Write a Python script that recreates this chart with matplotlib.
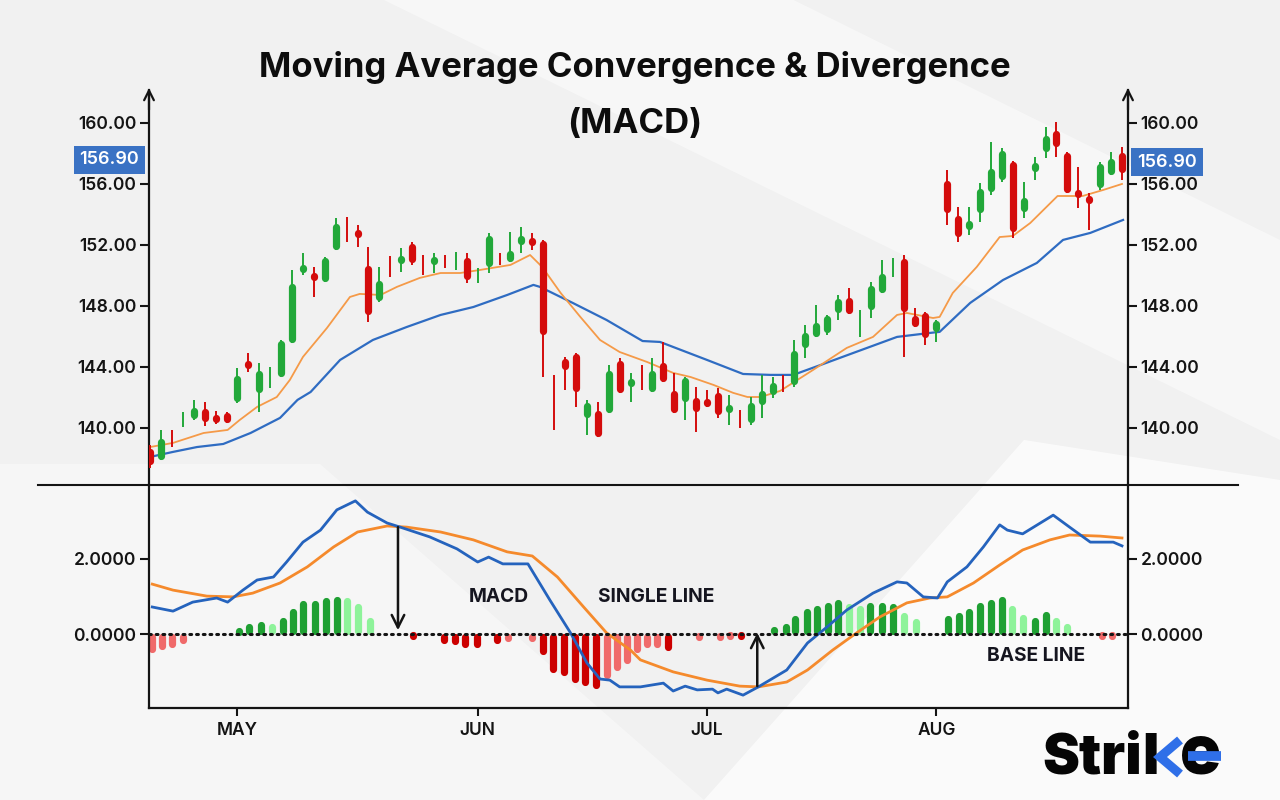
import numpy as np
import matplotlib
matplotlib.use("Agg")
import matplotlib.pyplot as plt
from matplotlib.lines import Line2D
from matplotlib.patches import Polygon

plt.rcParams['font.family'] = ['Inter', 'DejaVu Sans']

# ---- price panel data (candles, trading-day index 0..89)
opens = [138.69, 137.90, 139.35, 140.20, 140.59, 141.31, 140.85, 141.05, 141.71, 144.33,
         142.30, 143.21, 143.34, 145.57, 150.30, 150.16, 149.57, 151.67, 153.12, 152.98,
         150.69, 148.33, 150.56, 151.02, 152.13, 151.02, 150.82, 151.21, 150.49, 151.21,
         150.23, 150.56, 151.48, 150.89, 152.00, 152.33, 152.33, 143.15, 144.59, 144.92,
         140.66, 141.18, 140.98, 144.46, 142.69, 143.08, 142.36, 144.33, 142.49, 141.71,
         142.03, 141.97, 142.36, 141.05, 140.59, 140.33, 141.51, 142.16, 143.21, 142.82,
         145.25, 145.97, 146.23, 147.54, 148.59, 147.28, 147.74, 148.85, 150.56, 151.15,
         147.41, 147.61, 146.30, 156.26, 153.97, 152.98, 154.10, 155.48, 156.26, 157.51,
         154.16, 156.79, 158.10, 159.54, 158.10, 155.54, 155.21, 155.74, 156.59, 158.10]
closes = [137.57, 139.35, 138.89, 140.66, 141.38, 140.39, 140.39, 140.33, 143.48, 144.00,
          143.80, 143.34, 145.77, 149.51, 150.62, 149.71, 151.21, 153.44, 152.66, 152.52,
          147.41, 149.71, 150.16, 151.08, 150.82, 150.56, 151.15, 150.69, 150.89, 149.71,
          150.49, 152.66, 151.08, 151.67, 152.66, 152.13, 146.10, 142.62, 143.80, 142.36,
          141.71, 139.41, 143.80, 142.30, 143.28, 142.95, 143.80, 143.02, 140.98, 143.34,
          141.05, 141.38, 140.85, 141.51, 140.07, 141.71, 142.49, 143.02, 143.08, 145.11,
          146.30, 146.95, 147.41, 148.53, 147.48, 147.54, 149.38, 150.16, 150.69, 147.61,
          146.62, 145.90, 147.08, 154.10, 152.52, 153.64, 155.74, 157.05, 158.23, 152.85,
          155.15, 157.44, 159.21, 158.43, 155.41, 155.21, 154.75, 157.38, 157.70, 156.72]
highs = [138.89, 139.87, 139.87, 141.05, 141.84, 141.71, 141.12, 141.05, 143.94, 144.92,
         144.26, 144.00, 145.77, 150.36, 151.48, 150.56, 151.21, 153.77, 153.84, 153.31,
         151.87, 150.56, 151.28, 151.80, 152.20, 151.34, 151.48, 151.34, 151.54, 151.48,
         150.49, 152.79, 151.48, 152.85, 153.18, 152.79, 152.33, 143.48, 144.66, 144.92,
         141.84, 141.71, 144.13, 144.59, 143.61, 144.13, 144.59, 145.64, 143.61, 143.34,
         142.69, 142.49, 142.62, 142.16, 141.18, 142.03, 143.48, 143.34, 143.48, 145.77,
         146.75, 148.07, 147.41, 148.72, 149.18, 147.74, 149.57, 151.02, 151.15, 151.34,
         147.87, 147.61, 147.08, 156.92, 154.49, 154.49, 156.07, 158.75, 158.36, 157.51,
         156.13, 157.77, 159.74, 160.07, 158.10, 157.11, 155.41, 157.44, 158.10, 158.43]
lows = [137.38, 137.90, 138.75, 140.07, 140.52, 140.13, 140.26, 140.33, 141.64, 143.67,
        141.05, 142.62, 143.34, 145.57, 150.03, 148.59, 149.57, 151.67, 152.20, 151.87,
        146.95, 148.26, 149.90, 150.23, 150.69, 150.03, 150.16, 150.49, 150.36, 149.51,
        149.51, 150.16, 150.69, 150.89, 151.48, 151.67, 143.35, 139.87, 142.49, 141.38,
        139.54, 139.41, 140.98, 142.30, 141.71, 142.49, 142.36, 143.02, 140.98, 140.52,
        139.74, 141.38, 140.66, 140.20, 140.00, 140.20, 140.66, 141.97, 142.36, 142.69,
        144.59, 145.97, 146.10, 147.08, 147.48, 145.97, 147.21, 148.85, 149.90, 144.66,
        146.62, 145.44, 145.64, 153.31, 152.20, 152.66, 153.51, 155.28, 156.13, 152.46,
        153.77, 156.26, 157.70, 157.77, 155.41, 154.43, 152.98, 155.61, 156.59, 156.26]

# moving averages (read at sample points)
fast_ma_x = [0, 2.1, 4.9, 7.1, 8.2, 9.8, 11.6, 12.8, 14.0, 16.2, 18.3, 19.2, 21.1, 22.6,
             24.7, 26.6, 28.4, 30.2, 33.0, 34.8, 35.9, 37.6, 39.4, 41.2, 43.0, 45.5, 47.9,
             49.5, 51.6, 53.4, 54.7, 55.9, 57.7, 60.7, 63.8, 66.2, 68.4, 69.3, 71.7, 72.3,
             73.5, 75.7, 77.8, 79.0, 80.6, 83.1, 85.4, 87.3, 89.0]
fast_ma_y = [138.75, 139.02, 139.67, 139.87, 140.52, 141.38, 142.03, 143.15, 144.66, 146.56,
             148.59, 148.79, 148.72, 149.25, 149.84, 150.16, 150.16, 150.36, 150.69, 151.34,
             150.56, 148.85, 147.28, 145.77, 144.98, 144.33, 143.61, 143.34, 142.82, 142.30,
             142.03, 142.03, 142.43, 143.80, 145.25, 145.97, 147.41, 147.54, 147.21, 147.28,
             148.85, 150.56, 152.52, 152.59, 153.44, 155.21, 155.21, 155.61, 156.00]
slow_ma_x = [0, 2.1, 4.3, 6.7, 9.2, 11.9, 13.5, 14.7, 17.4, 20.4, 23.5, 26.6, 29.6, 32.7,
             35.1, 35.7, 38.7, 41.8, 45.1, 46.7, 51.0, 54.3, 56.8, 58.9, 61.4, 64.4, 68.4,
             71.4, 72.3, 75.1, 78.1, 81.2, 83.6, 86.1, 89.1]
slow_ma_y = [138.10, 138.43, 138.75, 138.95, 139.67, 140.66, 141.84, 142.36, 144.46, 145.77,
             146.62, 147.41, 147.93, 148.72, 149.38, 149.25, 148.20, 147.08, 145.70, 145.64,
             144.46, 143.54, 143.48, 143.48, 144.13, 144.92, 145.97, 146.23, 146.30, 148.20,
             149.70, 150.82, 152.33, 152.79, 153.64]

# ---- MACD panel data
macd_x = [0.2, 2.1, 3.9, 6.1, 7.1, 8.5, 9.8, 11.3, 12.5, 14.0, 15.6, 17.1, 18.8, 19.9,
          21.7, 22.9, 25.6, 28.1, 30.0, 31.0, 32.3, 34.6, 36.6, 38.5, 40.0, 41.2, 42.1,
          43.0, 44.9, 47.0, 47.9, 49.0, 50.1, 51.5, 52.0, 52.8, 54.3, 55.7, 58.3, 60.2,
          62.0, 63.8, 66.2, 68.4, 69.3, 70.8, 72.1, 73.0, 74.8, 76.3, 77.8, 78.5, 79.9,
          82.7, 84.2, 86.1, 88.2, 89.0]
macd_y = [0.72, 0.61, 0.85, 0.96, 0.85, 1.17, 1.44, 1.52, 1.92, 2.45, 2.77, 3.31, 3.55, 3.25,
          2.96, 2.85, 2.59, 2.27, 1.92, 2.05, 1.87, 1.87, 0.91, 0.03, -0.77, -1.20, -1.23,
          -1.41, -1.41, -1.31, -1.52, -1.39, -1.49, -1.47, -1.57, -1.47, -1.63, -1.41, -0.96,
          -0.24, 0.19, 0.64, 1.09, 1.39, 1.36, 0.99, 0.96, 1.39, 1.79, 2.32, 2.91, 2.77,
          2.67, 3.17, 2.85, 2.45, 2.45, 2.35]
signal_x = [0.2, 2.1, 5.2, 7.6, 9.4, 11.9, 14.4, 16.8, 19.0, 21.7, 23.5, 26.6, 29.6, 32.7,
            35.0, 37.3, 39.7, 41.8, 44.0, 44.9, 47.9, 51.0, 54.0, 55.7, 58.3, 60.2, 62.5,
            64.7, 66.8, 69.3, 71.4, 73.0, 75.4, 77.8, 79.9, 82.4, 84.2, 87.0, 89.0]
signal_y = [1.33, 1.17, 1.01, 0.99, 1.09, 1.36, 1.79, 2.32, 2.72, 2.88, 2.85, 2.72, 2.51, 2.19,
            2.08, 1.52, 0.72, 0.03, -0.43, -0.69, -1.01, -1.23, -1.39, -1.41, -1.28, -0.96,
            -0.43, 0.03, 0.45, 0.83, 0.96, 0.99, 1.36, 1.84, 2.24, 2.51, 2.64, 2.61, 2.56]

hist_x = [0.2, 1.1, 2.0, 3.0,
          8.1, 9.1, 10.2, 11.2, 12.2, 13.1, 14.0, 15.1, 16.1, 17.1, 18.0, 19.0, 20.1,
          24.1, 25.0, 25.9, 26.9, 27.9, 28.8, 29.9, 30.9, 31.8, 32.8, 33.9, 35.0, 36.0,
          36.9, 37.9, 38.9, 39.8, 40.8, 41.8, 42.8, 43.7, 44.6, 45.5, 46.4, 47.4, 48.4,
          49.3, 50.3, 51.2, 52.2, 53.1, 54.1,
          57.1, 58.2, 59.1, 60.2, 61.1, 62.1, 63.0, 64.0, 65.0, 65.9, 67.0, 68.0, 69.0, 70.1,
          73.1, 74.1, 75.0, 76.0, 77.0, 78.0, 78.9, 79.9, 81.0, 82.0, 83.0, 84.0,
          86.3, 87.2, 88.1, 89.1]
hist_v = [-0.50, -0.40, -0.35, -0.24,
          0.13, 0.29, 0.32, 0.28, 0.43, 0.67, 0.88, 0.88, 0.96, 1.00, 0.96, 0.80, 0.43,
          -0.08, -0.10, -0.16, -0.24, -0.27, -0.35, -0.35, -0.16, -0.24, -0.19, -0.16, -0.19,
          -0.53, -1.01, -1.09, -1.28, -1.36, -1.44, -1.17, -0.96, -0.77, -0.50, -0.35, -0.35,
          -0.43, -0.16, -0.11, -0.13, -0.16, -0.13, -0.08, -0.08,
          0.19, 0.29, 0.48, 0.67, 0.77, 0.85, 0.91, 0.80, 0.77, 0.83, 0.83, 0.80, 0.56, 0.40,
          0.48, 0.56, 0.67, 0.83, 0.91, 0.99, 0.75, 0.51, 0.45, 0.59, 0.45, 0.29,
          -0.10, -0.08, -0.08, -0.10]
hist_kind = (['lr'] * 4
             + ['dg', 'dg', 'dg', 'lg', 'dg', 'dg', 'dg', 'dg', 'dg', 'dg', 'lg', 'lg', 'lg']
             + ['dr'] * 7 + ['lr', 'dr', 'lr', 'lr', 'lr'] + ['dr'] * 6 + ['lr'] * 6
             + ['dr', 'lr', 'dr', 'lr', 'lr', 'lr', 'lr', 'dr']
             + ['dg'] * 7 + ['lg', 'lg', 'dg', 'dg', 'dg', 'lg', 'lg']
             + ['dg'] * 6 + ['lg', 'lg', 'dg', 'dg', 'lg', 'lg']
             + ['dr', 'lr', 'lr', 'dr'])

month_pos = [8, 30, 51, 72]
month_labels = ['MAY', 'JUN', 'JUL', 'AUG']
price_ticks = [140, 144, 148, 152, 156, 160]
macd_ticks = [0, 2]
last_price = 156.90

GREEN = '#22a83a'
RED = '#d40c0c'
ORANGE = '#f59a48'
BLUE = '#2f6cc2'
INK = '#141414'
LOGO_BLUE = '#2f6fe8'
hist_colors = {'dg': '#1fa033', 'lg': '#8ef39a', 'dr': '#cc0000', 'lr': '#f06a6a'}

W, H = 1280, 800
fig = plt.figure(figsize=(12.8, 8), dpi=100)
fig.patch.set_facecolor('#f1f1f1')

# soft diagonal light bands in the background
for pts, a in [([(0.30, 1), (0.62, 1), (1, 0.70), (1, 0.45)], 0.45),
               ([(0, 0.42), (0, 0), (0.55, 0), (0.25, 0.42)], 0.4),
               ([(0.55, 0), (1, 0), (1, 0.40), (0.80, 0.45)], 0.7)]:
    fig.add_artist(Polygon(pts, closed=True, transform=fig.transFigure,
                           fc='white', ec='none', alpha=a, zorder=-10))

xl = (-0.1, 89.55)
ax1 = fig.add_axes([149 / W, 315 / H, 979 / W, 395 / H])
ax2 = fig.add_axes([149 / W, 92 / H, 979 / W, 223 / H])
for ax in (ax1, ax2):
    ax.set_facecolor('none')
    ax.set_xlim(*xl)
    for s in ax.spines.values():
        s.set_linewidth(1.6)
        s.set_color(INK)

# ---- candles
o = np.array(opens); c = np.array(closes); hi = np.array(highs); lo = np.array(lows)
idx = np.arange(len(o))
cols = np.where(c >= o, GREEN, RED)
ax1.vlines(idx, lo, hi, colors=cols, lw=1.4, zorder=3)
r = 0.24  # round cap radius in price units
top = np.maximum(o, c); bot = np.minimum(o, c)
b0 = np.where(top - bot > 2 * r, bot + r, (top + bot) / 2 - 0.005)
b1 = np.where(top - bot > 2 * r, top - r, (top + bot) / 2 + 0.005)
bodies = ax1.vlines(idx, b0, b1, colors=cols, lw=5.2, zorder=4)
bodies.set_capstyle('round')

ax1.plot(slow_ma_x, slow_ma_y, color=BLUE, lw=1.6, zorder=2)
ax1.plot(fast_ma_x, fast_ma_y, color=ORANGE, lw=1.3, zorder=2)

ax1.set_ylim(136.26, 162.16)
ax1.spines['top'].set_visible(False)
ax1.spines['bottom'].set_visible(False)
ax1.set_xticks([])
ax1.set_yticks(price_ticks)
ax1.set_yticklabels(['{:.2f}'.format(v) for v in price_ticks])
ax1.tick_params(axis='y', direction='out', length=6.5, width=1.5, color=INK,
                labelsize=12.5, labelcolor=INK, right=True, labelright=True, pad=2.5)
for t in ax1.get_yticklabels():
    t.set_fontweight('semibold')
for xa in (0, 1):
    ax1.annotate('', xy=(xa, 1.005), xytext=(xa, 0.95), xycoords='axes fraction',
                 arrowprops=dict(arrowstyle='->,head_length=0.7,head_width=0.35',
                                 lw=1.6, color=INK, shrinkA=0, shrinkB=0))

# last price badges
for xa, dx, dy in [(0, -28.5, 7.5), (1, 28.0, 5.8)]:
    ax1.annotate('{:.2f}'.format(last_price), xy=(xa, last_price),
                 xycoords=('axes fraction', 'data'), xytext=(dx, dy),
                 textcoords='offset points', ha='center', va='center',
                 color='white', fontsize=13, fontweight='semibold',
                 bbox=dict(boxstyle='square,pad=0.32', fc='#3a72c4', ec='none'),
                 annotation_clip=False, zorder=10)

# ---- MACD panel
hv = np.array(hist_v)
hr = 0.09
h0 = np.where(np.abs(hv) > 2 * hr, np.sign(hv) * hr, hv / 2 - 0.004)
h1 = np.where(np.abs(hv) > 2 * hr, hv - np.sign(hv) * hr, hv / 2 + 0.004)
bars = ax2.vlines(hist_x, h0, h1, colors=[hist_colors[k] for k in hist_kind],
                  lw=5.2, zorder=2)
bars.set_capstyle('round')
ax2.axhline(0, color=INK, lw=2.2, linestyle=(0, (0.6, 1.6)),
            dash_capstyle='round', zorder=5)
ax2.plot(signal_x, signal_y, color='#f58a2c', lw=2.0, zorder=3)
ax2.plot(macd_x, macd_y, color='#2563bd', lw=2.0, zorder=4)

ax2.set_ylim(-1.973, 3.973)
ax2.spines['top'].set_visible(False)
ax2.set_yticks(macd_ticks)
ax2.set_yticklabels(['{:.4f}'.format(v) for v in macd_ticks])
ax2.tick_params(axis='y', direction='out', length=6.5, width=1.5, color=INK,
                labelsize=12.5, labelcolor=INK, right=True, labelright=True, pad=2.5)
ax2.set_xticks(month_pos)
ax2.set_xticklabels(month_labels)
ax2.tick_params(axis='x', direction='out', length=6, width=1.5, color=INK,
                labelsize=12.5, labelcolor=INK, pad=4)
for t in ax2.get_yticklabels() + ax2.get_xticklabels():
    t.set_fontweight('semibold')

arrow_kw = dict(arrowstyle='->,head_length=0.9,head_width=0.45', lw=1.8,
                color=INK, shrinkA=0, shrinkB=0)
ax2.annotate('', xy=(22.7, 0.10), xytext=(22.7, 2.85), arrowprops=arrow_kw, zorder=6)
ax2.annotate('', xy=(55.6, 0.03), xytext=(55.6, -1.39), arrowprops=arrow_kw, zorder=6)
lab_kw = dict(ha='center', va='center', fontsize=13.8, fontweight='bold', color='#15151f')
ax2.text(31.9, 0.99, 'MACD', **lab_kw)
ax2.text(46.3, 0.99, 'SINGLE LINE', **lab_kw)
ax2.text(81.1, -0.59, 'BASE LINE', **lab_kw)

# separator between panels
fig.add_artist(Line2D([38 / W, 1238 / W], [315 / H, 315 / H], transform=fig.transFigure,
                      color=INK, lw=1.5))

# title
fig.text(0.4961, 1 - 67 / H, 'Moving Average Convergence & Divergence', ha='center',
         va='center', fontsize=25, fontweight='bold', color='#0d0d0d')
fig.text(0.4961, 1 - 124 / H, '(MACD)', ha='center', va='center', fontsize=25,
         fontweight='bold', color='#0d0d0d')

# logo: "Stri" + stem + blue chevron + "e" with blue bar
rend = fig.canvas.get_renderer()
logo_kw = dict(va='baseline', fontweight='black', color='#050505')
base_y = 1 - 774 / H
t1 = fig.text(1042 / W, base_y, 'Stri', ha='left', fontsize=40, **logo_kw)
x1 = t1.get_window_extent(rend).x1
t2 = fig.text((x1 + 1) / W, base_y, 'l', ha='left', fontsize=40, **logo_kw)
x2 = t2.get_window_extent(rend).x1
t3 = fig.text(1221 / W, base_y, 'e', ha='right', fontsize=49, **logo_kw)
eb = t3.get_window_extent(rend)
cx = x2 + 1
fig.add_artist(Line2D([(cx + 20) / W, cx / W, (cx + 20) / W],
                      [1 - 740 / H, 1 - 757 / H, 1 - 774 / H],
                      transform=fig.transFigure, color=LOGO_BLUE, lw=6.5,
                      solid_joinstyle='miter', solid_capstyle='butt', zorder=5))
fig.add_artist(Line2D([(eb.x0 + 8) / W, 1221 / W], [1 - 756 / H, 1 - 756 / H],
                      transform=fig.transFigure, color=LOGO_BLUE, lw=7,
                      solid_capstyle='butt', zorder=5))

fig.savefig('out.png', dpi=100, facecolor=fig.get_facecolor())
